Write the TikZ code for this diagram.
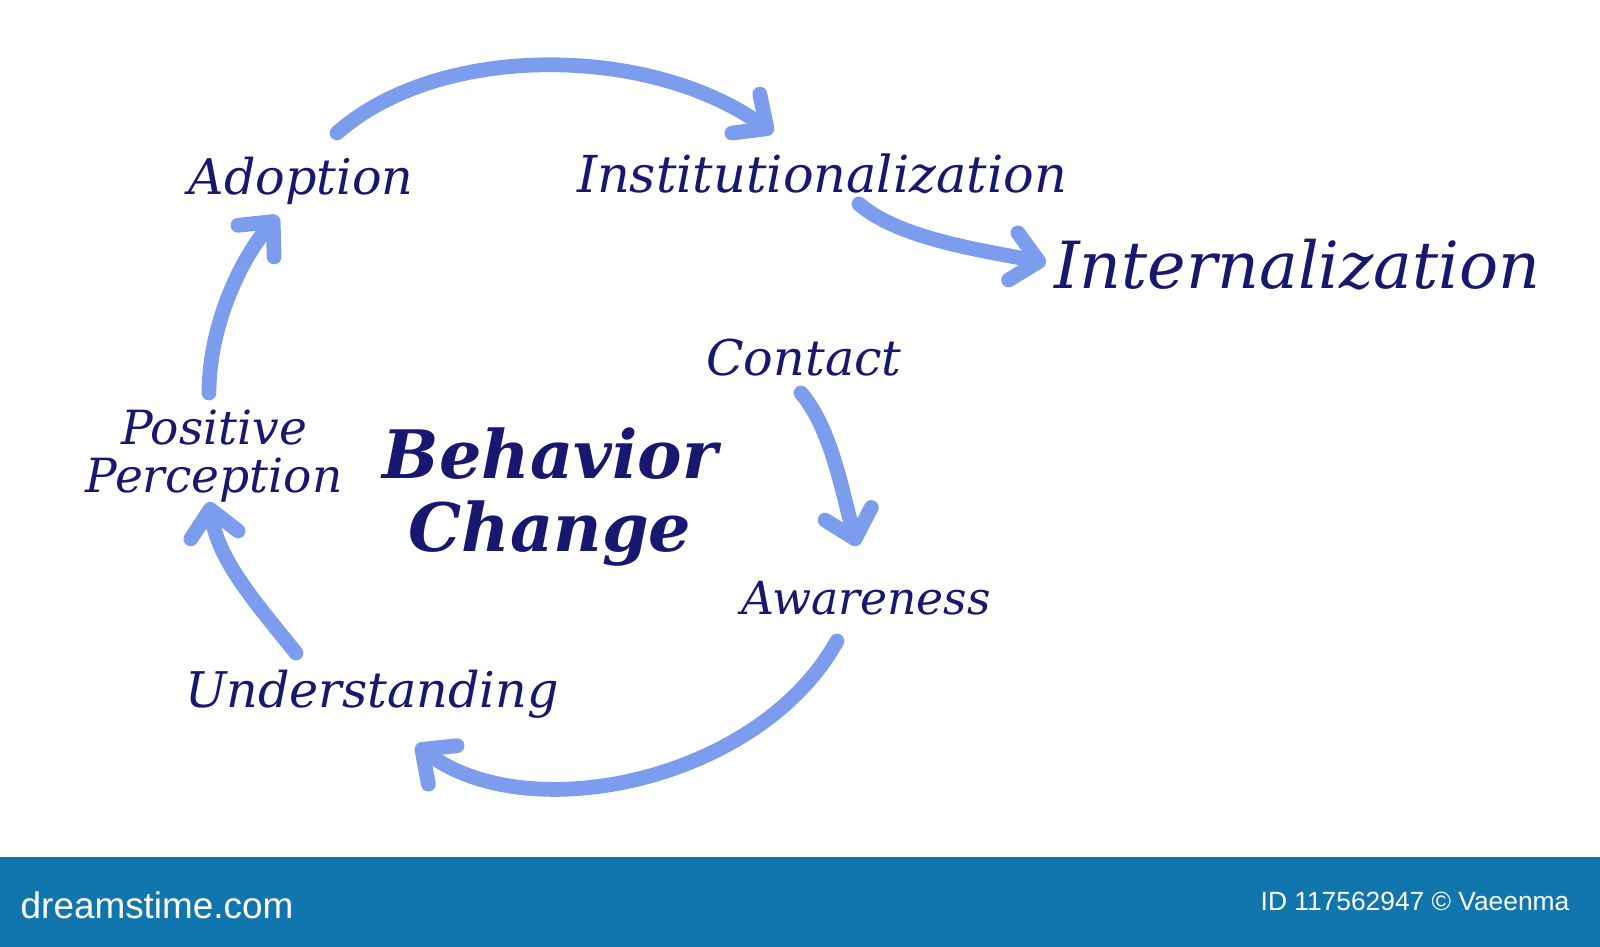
\documentclass[tikz,border=0pt]{standalone}
\usepackage{fontspec}
\setmainfont{DejaVu Serif}
\setsansfont{Liberation Sans}
\usepackage{tikz}
\usetikzlibrary{arrows.meta,positioning,calc}
\definecolor{inkblue}{RGB}{24,24,112}
\definecolor{flowblue}{RGB}{124,156,238}
\definecolor{barblue}{RGB}{18,118,174}
\tikzset{
  lbl/.style={text=inkblue,font=\itshape\fontsize{14}{16}\selectfont,inner sep=1pt},
  biglbl/.style={text=inkblue,font=\itshape\fontsize{18.5}{21}\selectfont,inner sep=1pt},
  title/.style={text=inkblue,font=\bfseries\itshape\fontsize{19}{21}\selectfont,align=center,inner sep=1pt},
  flow/.style={draw=flowblue,line width=4.2pt,line cap=round,-{Straight Barb[length=2.6mm,width=4.8mm,round]}},
  bartext/.style={text=white,font=\sffamily,inner sep=0pt}
}

\begin{document}
\begin{tikzpicture}[x=0.1mm,y=-0.1mm]
\useasboundingbox (0,0) rectangle (1600,947);
\node[lbl] (adopt) at (301,181) {Adoption};
\node[lbl, font=\itshape\fontsize{14.5}{16}\selectfont] (inst) at (822,174) {Institutionalization};
\node[biglbl, anchor=west] (intern) at (1050,265) {Internalization};
\node[lbl] (contact) at (804,358) {Contact};
\node[lbl, font=\itshape\fontsize{13}{15}\selectfont] (aware) at (866,598) {Awareness};
\node[lbl] (under) at (372,694) {Understanding};
\node[lbl, align=center, font=\itshape\fontsize{13.4}{13.5}\selectfont] (percep) at (214,456) {Positive\\Perception};
\node[title] (behav) at (550,497) {Behavior\\Change};
\draw[flow] ([shift={(36,-48)}]adopt.center) .. controls +(103,-91) and +(-123,-88) .. ([shift={(-49,-41)}]inst.center);
\draw[flow] ([shift={(37,30)}]inst.center) .. controls +(40,35) and +(-60,-12) .. ([shift={(-4,-2)}]intern.west);
\draw[flow] ([shift={(-3,35)}]contact.center) .. controls +(30,35) and +(-15,-55) .. ([shift={(-9,-52)}]aware.center);
\draw[flow] ([shift={(-29,43)}]aware.center) .. controls +(-77,139) and +(114,85) .. ([shift={(44,51)}]under.center);
\draw[flow] ([shift={(-76,-41)}]under.center) .. controls +(-40,-50) and +(10,60) .. ([shift={(-5,46)}]percep.center);
\draw[flow] ([shift={(-5,-63)}]percep.center) .. controls +(0,-70) and +(-35,40) .. ([shift={(-23,35)}]adopt.center);
% banner
\fill[barblue] (0,857) rectangle (1600,947);
\node[bartext, anchor=west, font=\sffamily\fontsize{10.5}{12}\selectfont] (site) at (20,905) {dreamstime.com};
\node[bartext, anchor=east, font=\sffamily\fontsize{7.5}{9}\selectfont] (imgid) at (1570,901) {ID 117562947 © Vaeenma};
\end{tikzpicture}
\end{document}
